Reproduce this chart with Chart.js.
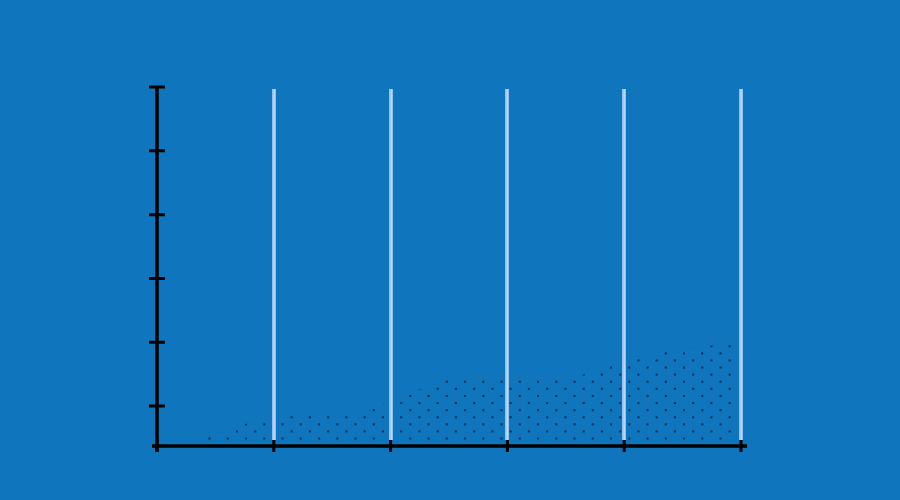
<!DOCTYPE html>
<html>
<head>
<meta charset="utf-8">
<script src="https://cdn.jsdelivr.net/npm/chart.js@4/dist/chart.umd.min.js"></script>
<style>
  html, body { margin: 0; padding: 0; background: #0f75bc; }
  #wrap { width: 900px; height: 500px; position: relative; }
</style>
</head>
<body>
<div id="wrap"><canvas id="chart"></canvas></div>
<script>
// Tengelyek osztásai
const xTicks = [0, 1, 2, 3, 4, 5];
const yTicks = [0.625, 1.625, 2.625, 3.625, 4.625, 5.625];

// A pöttyözött terület felső széle (a képről becsülve)
const areaX = [0.41, 0.67, 0.84, 1.1, 1.78, 1.87, 2.47, 3.58, 4.35, 4.65, 4.92];
const areaY = [0.16, 0.27, 0.41, 0.47, 0.5, 0.61, 1.05, 1.08, 1.5, 1.56, 1.61];

// Pöttyös minta a kitöltéshez
function pottyMinta() {
    const c = document.createElement('canvas');
    c.width = 18;
    c.height = 14;
    const g = c.getContext('2d');
    g.fillStyle = 'rgba(18, 30, 52, 0.8)';
    g.fillRect(0, 0, 2, 2);
    g.fillRect(9, 7, 2, 2);
    const p = g.createPattern(c, 'repeat');
    p.setTransform(new DOMMatrix().translate(208.5, 437.5).scale(18.25 / 18, 14.2 / 14));
    return p;
}

// Tengelyek és rácsvonalak rajzolása
const tengelyPlugin = {
    id: 'tengelyek',
    afterDatasetsDraw(chart) {
        const ctx = chart.ctx;
        const area = chart.chartArea;
        const xs = chart.scales.x;
        const ys = chart.scales.y;
        ctx.save();

        // világoskék függőleges rácsvonalak
        xTicks.slice(1).forEach(t => {
            const px = Math.round(xs.getPixelForValue(t));
            ctx.fillStyle = '#93c0ef';
            ctx.fillRect(px - 2, area.top + 2, 4, area.bottom - area.top - 8);
            ctx.fillStyle = '#bcd7f6';
            ctx.fillRect(px - 0.5, area.top + 2, 1.5, area.bottom - area.top - 8);
        });

        // fekete tengelyek
        ctx.strokeStyle = '#000';
        ctx.lineWidth = 3.5;
        ctx.beginPath();
        ctx.moveTo(area.left, area.top);
        ctx.lineTo(area.left, area.bottom + 6);
        ctx.moveTo(area.left - 5, area.bottom);
        ctx.lineTo(area.right + 6, area.bottom);
        ctx.stroke();

        // osztásjelek
        ctx.lineWidth = 3;
        ctx.beginPath();
        xTicks.forEach(t => {
            const px = xs.getPixelForValue(t);
            ctx.moveTo(px, area.bottom - 6);
            ctx.lineTo(px, area.bottom + 6);
        });
        yTicks.forEach(t => {
            const py = ys.getPixelForValue(t);
            ctx.moveTo(area.left - 8, py);
            ctx.lineTo(area.left + 8, py);
        });
        ctx.stroke();
        ctx.restore();
    }
};

const adatok = areaX.map((x, i) => ({ x: x, y: areaY[i] }));

new Chart(document.getElementById('chart'), {
    type: 'line',
    data: {
        datasets: [{
            data: adatok,
            borderWidth: 0,
            borderColor: 'rgba(0,0,0,0)',
            pointRadius: 0,
            tension: 0,
            fill: 'start',
            backgroundColor: pottyMinta()
        }]
    },
    options: {
        responsive: true,
        maintainAspectRatio: false,
        animation: false,
        layout: { padding: { left: 157, top: 87, right: 159, bottom: 54 } },
        scales: {
            x: { type: 'linear', min: 0, max: 5, display: false },
            y: { type: 'linear', min: 0, max: 5.625, display: false }
        },
        plugins: {
            legend: { display: false },
            tooltip: { enabled: false }
        }
    },
    plugins: [tengelyPlugin]
});
</script>
</body>
</html>
